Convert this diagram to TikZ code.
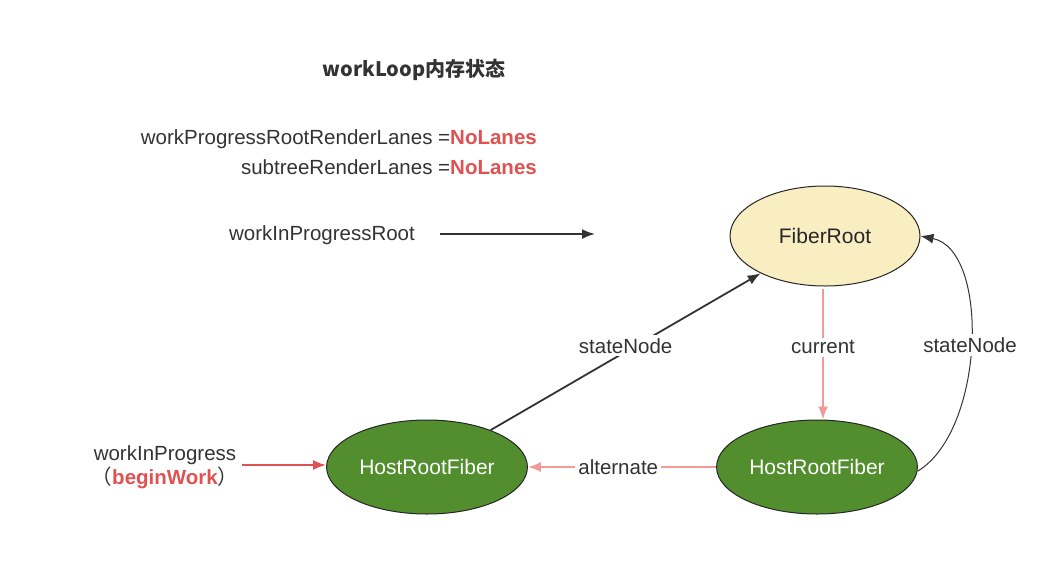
\documentclass[tikz,border=0pt]{standalone}
\usepackage{fontspec}
\setmainfont{Liberation Sans}
\newfontfamily\cjk{Noto Sans CJK SC}
\usetikzlibrary{shapes.geometric,arrows.meta}
\definecolor{myRed}{HTML}{E05252}
\definecolor{myPink}{HTML}{F09A9A}
\definecolor{myGreen}{HTML}{528E2E}
\definecolor{myCream}{HTML}{F8EEC2}
\definecolor{myText}{HTML}{333333}
\begin{document}
\begin{tikzpicture}[x=1pt,y=-1pt,
  txt/.style={text=myText, font=\fontsize{20.5}{24}\selectfont, inner sep=1pt},
  fib/.style={ellipse, draw=black!85, line width=1pt, fill=myGreen, text=white,
    minimum width=184pt, minimum height=94pt, font=\fontsize{21}{24}\selectfont},
  blk/.style={line width=1.8pt, draw=black!80, -{Latex[length=13pt,width=10pt]}},
  pnk/.style={line width=1.8pt, draw=myPink, -{Latex[length=13pt,width=10pt]}},
  lbl/.style={txt, fill=white, inner sep=3pt}]
  \useasboundingbox (0,0) rectangle (1056,576);

  \node[txt, font=\cjk\bfseries\fontsize{20}{24}\selectfont] (title) at (414,70) {workLoop内存状态};
  \node[txt, anchor=east] (l1) at (538,139) {workProgressRootRenderLanes =\textcolor{myRed}{\bfseries NoLanes}};
  \node[txt, anchor=east] (l2) at (538,167) {subtreeRenderLanes =\textcolor{myRed}{\bfseries NoLanes}};

  \node[ellipse, draw=black!85, line width=1pt, fill=myCream, text=black!85,
    minimum width=190pt, minimum height=100pt, font=\fontsize{21}{24}\selectfont] (root) at (825,236) {FiberRoot};
  \node[fib] (hl) at (427,467) {HostRootFiber};
  \node[fib, minimum width=178pt] (hr) at (817,467) {HostRootFiber};

  \node[txt] (wipr) at (322,235) {workInProgressRoot};
  \coordinate (wiprEnd) at (595,234);
  \draw[blk] (440,234) -- (wiprEnd);

  \node[txt, align=center] (wip) at (165,467) {workInProgress\\{\cjk （}\textcolor{myRed}{\bfseries beginWork}{\cjk ）}};
  \coordinate (wipStart) at (242,465);
  \draw[line width=1.8pt, draw=myRed, -{Latex[length=13pt,width=10pt]}] (wipStart) -- (wipStart -| hl.west);

  \draw[blk] (hl) -- (root) node[lbl, midway, yshift=6pt] {stateNode};
  \draw[pnk] (root.south) ++(-2,2) -- ([xshift=6pt]hr.north) node[lbl, pos=0.45] {current};
  \draw[pnk] (hr.west) -- (hl.east) node[lbl, pos=0.52] {alternate};
  \draw[line width=1pt, draw=black!80, -{Latex[length=13pt,width=10pt]}]
    ([yshift=-4pt]hr.east) .. controls (985,430) and (990,250) .. (root.east);
  \node[lbl] (sn) at (970,345) {stateNode};
\end{tikzpicture}
\end{document}
